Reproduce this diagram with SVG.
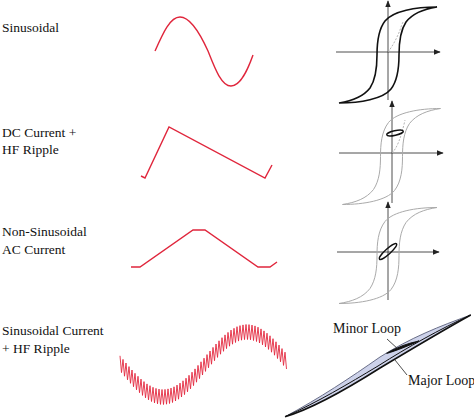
<svg xmlns="http://www.w3.org/2000/svg" width="474" height="418" viewBox="0 0 474 418">
<style>
.lbl{font-family:"Liberation Serif","Times New Roman",serif;font-size:13.5px;fill:#111}
.wave{fill:none;stroke:#e0263c;stroke-width:1.4;stroke-linejoin:miter}
.ripple{fill:none;stroke:#e3283e;stroke-width:0.9}
.axis{stroke:#222;stroke-width:0.8;fill:none;marker-end:url(#arr)}
.loopB{fill:none;stroke:#111;stroke-width:1.6}
.loopG{fill:none;stroke:#aaa;stroke-width:1}
.init{fill:none;stroke:#aaa;stroke-width:0.9;stroke-dasharray:2 1.5}
.minor{fill:none;stroke:#111;stroke-width:1.4}
.leader{stroke:#222;stroke-width:0.8}
</style>
<defs>
<marker id="arr" viewBox="0 0 10 10" refX="9" refY="5" markerWidth="7" markerHeight="7" markerUnits="userSpaceOnUse" orient="auto">
<path d="M0,1 L10,5 L0,9 Z" fill="#222"/>
</marker>
<path id="hloop" d="M49,-48 C28,-48 5,-44 -3,-34 C-10,-25 -11,-12 -11,0 C-11,12 -12,24 -18,33 C-25,42 -36,46 -49,48 C-28,48 -5,44 3,34 C10,25 11,12 11,0 C11,-12 12,-24 18,-33 C25,-42 36,-46 49,-48 Z"/>
</defs>

<g id="row1">
<text class="lbl" x="2" y="32">Sinusoidal</text>
<path class="wave" d="M155,51 C163,33 170,17 180,17 C192,17 203,40 208,51 C214,66 221,86 231,86 C241,86 248,69 253,55"/>
<line class="axis" x1="388" y1="100" x2="388" y2="1"/>
<line class="axis" x1="336" y1="52" x2="440" y2="52"/>
<path class="init" d="M388,52 C392,47 397,38 400,30 C401,27 402,24 403,22"/>
<use href="#hloop" class="loopB" transform="translate(388,55)"/>
</g>

<g id="row2">
<text class="lbl" x="2" y="137">DC Current +</text>
<text class="lbl" x="2" y="154">HF Ripple</text>
<polyline class="wave" points="141,176 145,178 169,127 265,178 272,165"/>
<line class="axis" x1="392" y1="203" x2="392" y2="101"/>
<line class="axis" x1="339" y1="153" x2="443" y2="153"/>
<path class="init" d="M392,153 C397,148 401,138 405,120"/>
<use href="#hloop" class="loopG" transform="translate(391.5,156.5)"/>
<ellipse class="minor" cx="395" cy="133" rx="8.5" ry="2.3" transform="rotate(-13 395 133)" fill="#fff"/>
</g>

<g id="row3">
<text class="lbl" x="2" y="236">Non-Sinusoidal</text>
<text class="lbl" x="2" y="254">AC Current</text>
<polyline class="wave" points="131,267 140,267 193,230 205,230 258,267 270,267 277,262"/>
<line class="axis" x1="388" y1="300" x2="388" y2="202"/>
<line class="axis" x1="337" y1="252" x2="439" y2="252"/>
<use href="#hloop" class="loopG" transform="translate(388,255.5)"/>
<ellipse class="minor" cx="388" cy="251.5" rx="11.5" ry="2.6" transform="rotate(-42 388 251.5)" fill="#fff"/>
</g>

<g id="row4">
<text class="lbl" x="2" y="335">Sinusoidal Current</text>
<text class="lbl" x="2" y="353">+ HF Ripple</text>
<polyline class="ripple" points="120,355.8 121.5,372.6 123,359.4 124.5,376.2 126,363 127.5,379.8 129,366.6 130.5,383.3 132,370 133.5,386.7 135,373.3 136.5,389.8 138,376.3 139.5,392.7 141,379.1 142.5,395.4 144,381.6 145.5,397.8 147,383.9 148.5,399.8 150,385.7 151.5,401.5 153,387.3 154.5,402.9 156,388.4 157.5,403.8 159,389.1 160.5,404.4 162,389.5 163.5,404.5 165,389.4 166.5,404.2 168,388.9 169.5,403.5 171,388.1 172.5,402.5 174,386.8 175.5,401 177,385.1 178.5,399.2 180,383.1 181.5,397 183,380.8 184.5,394.6 186,378.2 187.5,391.8 189,375.3 190.5,388.8 192,372.2 193.5,385.6 195,368.9 196.5,382.2 198,365.4 199.5,378.6 201,361.8 202.5,375 204,358.2 205.5,371.4 207,354.6 208.5,367.8 210,351 211.5,364.2 213,347.4 214.5,360.7 216,344 217.5,357.4 219,340.8 220.5,354.2 222,337.7 223.5,351.3 225,334.9 226.5,348.6 228,332.4 229.5,346.2 231,330.1 232.5,344.2 234,328.3 235.5,342.5 237,326.7 238.5,341.1 240,325.6 241.5,340.2 243,324.9 244.5,339.6 246,324.5 247.5,339.5 249,324.6 250.5,339.8 252,325.1 253.5,340.5 255,325.9 256.5,341.5 258,327.2 259.5,343 261,328.9 262.5,344.8 264,330.9 265.5,347 267,333.2 268.5,349.4 270,335.8 271.5,352.2 273,338.7 274.5,355.2 276,341.8 277.5,358.5 279,345.1 280.5,361.8 282,348.6 283.5,365.4 285,352.2 286.5,369"/>
<path d="M285,416.7 C320,398 350,378 380,357 C410,338 440,326 470.7,315 C440,332 410,350 380,368 C350,387 315,408 285,416.7 Z" fill="#cdd2ea" stroke="none"/>
<path d="M285,416.7 C320,398 350,378 380,357 C410,338 440,326 470.7,315" fill="none" stroke="#6a6f88" stroke-width="1"/>
<path d="M285,416.7 C318,402 348,384 378,366 C408,347 440,329 470.7,315" fill="none" stroke="#111" stroke-width="1"/>
<path d="M470.7,315 C440,332 410,350 380,368 C350,387 315,408 285,416.7" fill="none" stroke="#111" stroke-width="1.6"/>
<path d="M386.5,353.5 C396,348 408,343 419,341 C410,345 398,350 386.5,353.5 Z" fill="#111" stroke="#111" stroke-width="1.2"/>
<line class="leader" x1="387" y1="339" x2="398.5" y2="349.5"/>
<line class="leader" x1="395" y1="360" x2="407" y2="375"/>
<text class="lbl" x="333" y="332.5" style="font-size:14px">Minor Loop</text>
<text class="lbl" x="408" y="385" style="font-size:14px">Major Loop</text>
</g>
</svg>
